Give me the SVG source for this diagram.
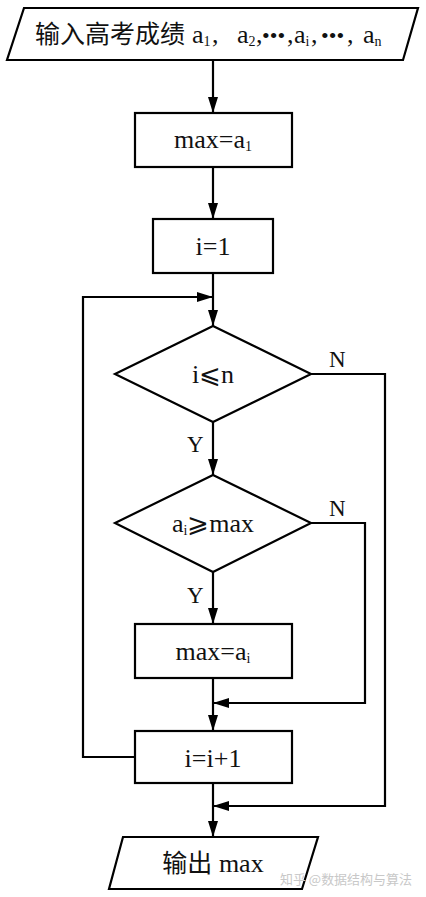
<svg xmlns="http://www.w3.org/2000/svg" width="426" height="897" viewBox="0 0 426 897">
<defs>
<marker id="arr" viewBox="0 0 16 10" refX="16" refY="5" markerWidth="16" markerHeight="10" markerUnits="userSpaceOnUse" orient="auto">
<path d="M0,0 L16,5 L0,10 Z" fill="#000"/>
</marker>
</defs>
<style>
.shape{fill:#fff;stroke:#000;stroke-width:2.2}
.line{fill:none;stroke:#000;stroke-width:2.2}
.t{font-family:"Liberation Serif","Times New Roman",serif;font-size:26px;fill:#111}
.cjk{font-family:"Noto Sans CJK SC","Noto Sans CJK JP",sans-serif;font-size:25px;fill:#111}
.lbl{font-family:"Liberation Serif","Times New Roman",serif;font-size:23px;fill:#111}
.sub{font-size:14px}
.dots{font-size:22px}
.wm{font-family:"Noto Sans CJK SC",sans-serif;font-size:13px;fill:#c8c8c8}
</style>
<rect width="426" height="897" fill="#fff"/>
<g id="connectors">
<line class="line" x1="213" y1="60" x2="213" y2="113" marker-end="url(#arr)"/>
<line class="line" x1="213" y1="167" x2="213" y2="219" marker-end="url(#arr)"/>
<line class="line" x1="213" y1="273" x2="213" y2="326" marker-end="url(#arr)"/>
<line class="line" x1="213" y1="422" x2="213" y2="475" marker-end="url(#arr)"/>
<line class="line" x1="213" y1="572" x2="213" y2="624" marker-end="url(#arr)"/>
<line class="line" x1="213" y1="678" x2="213" y2="731" marker-end="url(#arr)"/>
<line class="line" x1="213" y1="783" x2="213" y2="837" marker-end="url(#arr)"/>
<polyline class="line" points="311,374 385,374 385,806 213,806" marker-end="url(#arr)"/>
<polyline class="line" points="311,523 365,523 365,703 213,703" marker-end="url(#arr)"/>
<polyline class="line" points="135,757 83,757 83,297 213,297" marker-end="url(#arr)"/>
<text class="lbl" x="329" y="367">N</text>
<text class="lbl" x="329" y="516">N</text>
<text class="lbl" x="187" y="452">Y</text>
<text class="lbl" x="187" y="603">Y</text>
</g>
<g id="input">
<polygon class="shape" points="24,8 418,8 403,60 7,60"/>
<text class="t" y="43"><tspan class="cjk" x="35">输入高考成绩</tspan><tspan x="192">a</tspan><tspan class="sub" dy="3">1</tspan><tspan x="212" dy="-3">,</tspan><tspan x="237">a</tspan><tspan class="sub" dy="3">2</tspan><tspan x="256" dy="-3">,</tspan><tspan class="dots" x="262">•••</tspan><tspan x="287">,</tspan><tspan x="294">a</tspan><tspan class="sub" dy="3">i</tspan><tspan x="311" dy="-3">,</tspan><tspan class="dots" x="321">•••</tspan><tspan x="347">,</tspan><tspan x="363">a</tspan><tspan class="sub" dy="3">n</tspan></text>
</g>
<g id="init-max">
<rect class="shape" x="135" y="113" width="157" height="54"/>
<text class="t" x="213" y="148" text-anchor="middle">max=a<tspan class="sub" dy="3">1</tspan></text>
</g>
<g id="init-i">
<rect class="shape" x="153" y="219" width="120" height="54"/>
<text class="t" x="213" y="255" text-anchor="middle">i=1</text>
</g>
<g id="cond-i">
<polygon class="shape" points="213,326 311,374 213,422 115,374"/>
<text class="t" x="213" y="383" text-anchor="middle">i⩽n</text>
</g>
<g id="cond-a">
<polygon class="shape" points="213,475 311,523 213,572 115,523"/>
<text class="t" x="213" y="532" text-anchor="middle">a<tspan class="sub" dy="3">i</tspan><tspan dy="-3">⩾max</tspan></text>
</g>
<g id="update-max">
<rect class="shape" x="135" y="624" width="157" height="54"/>
<text class="t" x="213" y="660" text-anchor="middle">max=a<tspan class="sub" dy="3">i</tspan></text>
</g>
<g id="incr">
<rect class="shape" x="135" y="731" width="157" height="52"/>
<text class="t" x="213" y="767" text-anchor="middle">i=i+1</text>
</g>
<g id="output">
<polygon class="shape" points="123,837 318,837 302,889 109,889"/>
<text x="213" y="872" text-anchor="middle"><tspan class="cjk">输出</tspan><tspan class="t"> max</tspan></text>
</g>
<text class="wm" x="280" y="884" textLength="132" lengthAdjust="spacingAndGlyphs">知乎 @数据结构与算法</text>
</svg>
